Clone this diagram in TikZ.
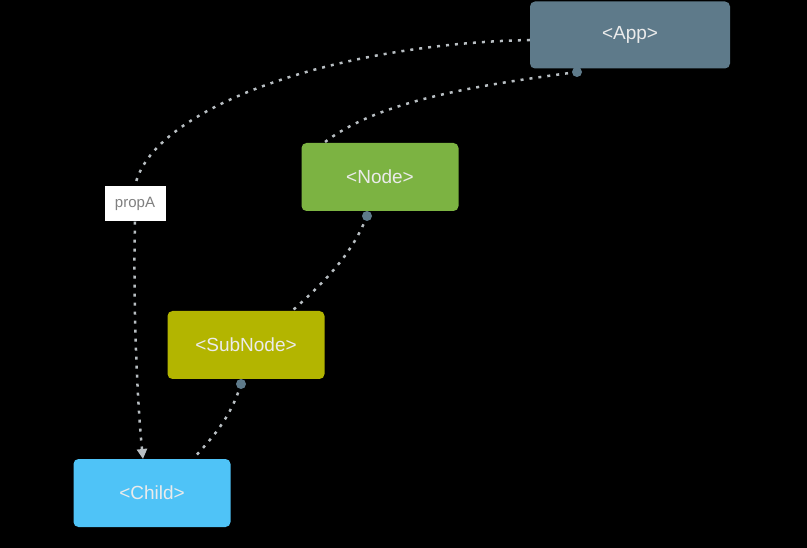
\documentclass[tikz,border=0pt]{standalone}
\usepackage{fontspec}
\setmainfont{Liberation Sans}
\usetikzlibrary{arrows.meta}
\definecolor{appc}{HTML}{5E7A8A}
\definecolor{nodec}{HTML}{7CB342}
\definecolor{subc}{HTML}{B3B500}
\definecolor{childc}{HTML}{4FC3F7}
\definecolor{dotc}{HTML}{5E7A8A}
\definecolor{linec}{HTML}{B8BEC2}
\begin{document}
\begin{tikzpicture}[x=1pt,y=-1pt,
  box/.style={rounded corners=5pt,minimum width=157pt,minimum height=68pt,text=white!92!black,font=\fontsize{19}{22}\selectfont,inner sep=0pt},
  conn/.style={draw=linec,line width=2.5pt,dash pattern=on 3pt off 6pt},
  knob/.style={circle,fill=dotc,inner sep=0pt,minimum size=10pt}]
\fill[black] (0,0) rectangle (807,548);
\useasboundingbox (0,0) rectangle (807,548);
\node[box,fill=appc,minimum width=200pt,minimum height=67pt] (app) at (630,35) {<App>};
\node[box,fill=nodec] (nd) at (380,177) {<Node>};
\node[box,fill=subc] (sub) at (246,345) {<SubNode>};
\node[box,fill=childc] (child) at (152,493) {<Child>};
\node[fill=white,text=gray,minimum width=61pt,minimum height=35pt,inner sep=0pt,font=\fontsize{15}{17}\selectfont] (prop) at (135,204) {propA};
\coordinate (k1) at (577,72);
\coordinate (k2) at (367,216);
\coordinate (k3) at (241,384);
\coordinate (ct1) at (143,459);
\coordinate (ct2) at (193,459);
\coordinate (nt) at (325,142);
\coordinate (st) at (292,311);
\draw[conn] (app.west|-0,40) .. controls (330,44) and (150,110) .. (prop.north);
\draw[conn,-{Triangle[width=10pt,length=10pt,fill=linec]}] (prop.south) .. controls (133,300) and (137,400) .. (ct1);
\draw[conn] (k1) .. controls (480,85) and (380,100) .. (nt);
\draw[conn] (k2) .. controls (350,260) and (315,290) .. (st);
\draw[conn] (k3) .. controls (230,420) and (210,440) .. (ct2);
\node[knob] (d1) at (k1) {};
\node[knob] (d2) at (k2) {};
\node[knob] (d3) at (k3) {};
\end{tikzpicture}
\end{document}
